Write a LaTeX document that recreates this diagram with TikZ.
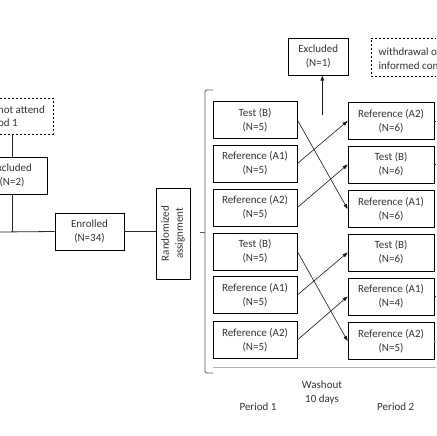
\documentclass[tikz,border=0pt]{standalone}
\usepackage{fontspec}
\setmainfont{Carlito}
\usetikzlibrary{arrows.meta}
\begin{document}
\begin{tikzpicture}[x=1pt,y=-1pt,
  box/.style={draw=black, line width=0.8pt, align=center, inner sep=0pt,
    font=\fontsize{11}{14}\selectfont, text=black!80},
  dbox/.style={box, dash pattern=on 2pt off 2pt},
  txt/.style={align=center, inner sep=0pt, font=\fontsize{11}{14}\selectfont, text=black!80},
  pbox/.style={box, minimum width=84pt, minimum height=37pt},
  qbox/.style={box, minimum width=86pt, minimum height=37pt},
  arr/.style={-{Triangle[length=5pt,width=3.6pt]}, line width=0.6pt, draw=black!90},
  conn/.style={line width=0.8pt, draw=black!85},
  brk/.style={line width=0.9pt, draw=black!65, rounded corners=1.5pt}
]
\useasboundingbox (0,0) rectangle (436,436);
\clip (0,0) rectangle (436,436);

% left column
\node[dbox, minimum width=113pt, minimum height=36pt] (dleft) at (-3.5,116) {};
\node[txt, anchor=east] (dlt1) at (45,109.5) {not attend};
\node[txt, anchor=east] (dlt2) at (18,123.5) {period 1};
\node[box, minimum width=70pt, minimum height=37pt] (exc2) at (12,175.5) {Excluded\\(N=2)};
\coordinate (j) at (12.5,232);
\coordinate (lft) at (0,232);
\draw[conn] (dleft.south -| j) -- (exc2.north -| j);
\draw[conn] (exc2.south -| j) -- (j);

\node[box, minimum width=69pt, minimum height=37pt] (enr) at (89.5,231.5) {Enrolled\\(N=34)};
\draw[conn] (lft) -- (enr.west);

\node[box, minimum width=34pt, minimum height=91pt] (rnd) at (173,233.5) {};
\node[txt, rotate=90] (rndt) at (rnd.center) {Randomized\\assignment};
\draw[conn] (enr.east) -- (enr.east -| rnd.west);

% bracket
\coordinate (bt) at (213,90);
\coordinate (bb) at (213,373);
\coordinate (bm) at (200,232);
\draw[brk] (bt) -- (205,90) -- (205,373) -- (bb);
\draw[brk] (bm) -- (205,232);
\coordinate (gl) at (213,367);
\coordinate (gr) at (436,367);
\draw[line width=0.8pt, draw=black!30] (gl) -- (gr);

% period 1
\node[pbox] (a1) at (255,120) {Test (B)\\(N=5)};
\node[pbox] (a2) at (255,163.5) {Reference (A1)\\(N=5)};
\node[pbox] (a3) at (255,207.5) {Reference (A2)\\(N=5)};
\node[pbox] (a4) at (255,251.5) {Test (B)\\(N=5)};
\node[pbox] (a5) at (255,295) {Reference (A1)\\(N=5)};
\node[pbox] (a6) at (255,340) {Reference (A2)\\(N=5)};

% period 2
\node[qbox] (b1) at (391,121) {Reference (A2)\\(N=6)};
\node[qbox] (b2) at (391,164.5) {Test (B)\\(N=6)};
\node[qbox] (b3) at (391,209) {Reference (A1)\\(N=6)};
\node[qbox] (b4) at (391,252.5) {Test (B)\\(N=6)};
\node[qbox] (b5) at (391,296.5) {Reference (A1)\\(N=4)};
\node[qbox] (b6) at (391,341) {Reference (A2)\\(N=5)};

\draw[arr] (a1.east) -- (b3.west);
\draw[arr] (a2.east) -- (b1.west);
\draw[arr] (a3.east) -- (b2.west);
\draw[arr] (a4.east) -- (b6.west);
\draw[arr] (a5.east) -- (b4.west);
\draw[arr] (a6.east) -- (b5.west);

% stubs to the right
\draw[conn] (b1.east) -- ++(6,0);
\draw[conn] (b2.east) -- ++(6,0);
\draw[conn] (b5.east) -- ++(6,0);
\draw[line width=0.8pt, draw=black!35] (b6.east) -- ++(6,0);

% top
\node[box, minimum width=60pt, minimum height=37pt] (exc1) at (318.3,56.7) {Excluded\\(N=1)};
\node[dbox, minimum width=110pt, minimum height=38pt] (wd) at (426,57) {};
\node[txt, anchor=west, align=left] (wdt) at (378.5,59) {withdrawal of\\informed consent};
\coordinate (up) at (322.3,115);
\draw[arr, line width=0.8pt] (up) -- (up |- exc1.south);

% labels
\node[txt] (p1) at (258,407) {Period 1};
\node[txt] (wo) at (322,393) {Washout\\10 days};
\node[txt] (p2) at (395.7,407) {Period 2};
\end{tikzpicture}
\end{document}
